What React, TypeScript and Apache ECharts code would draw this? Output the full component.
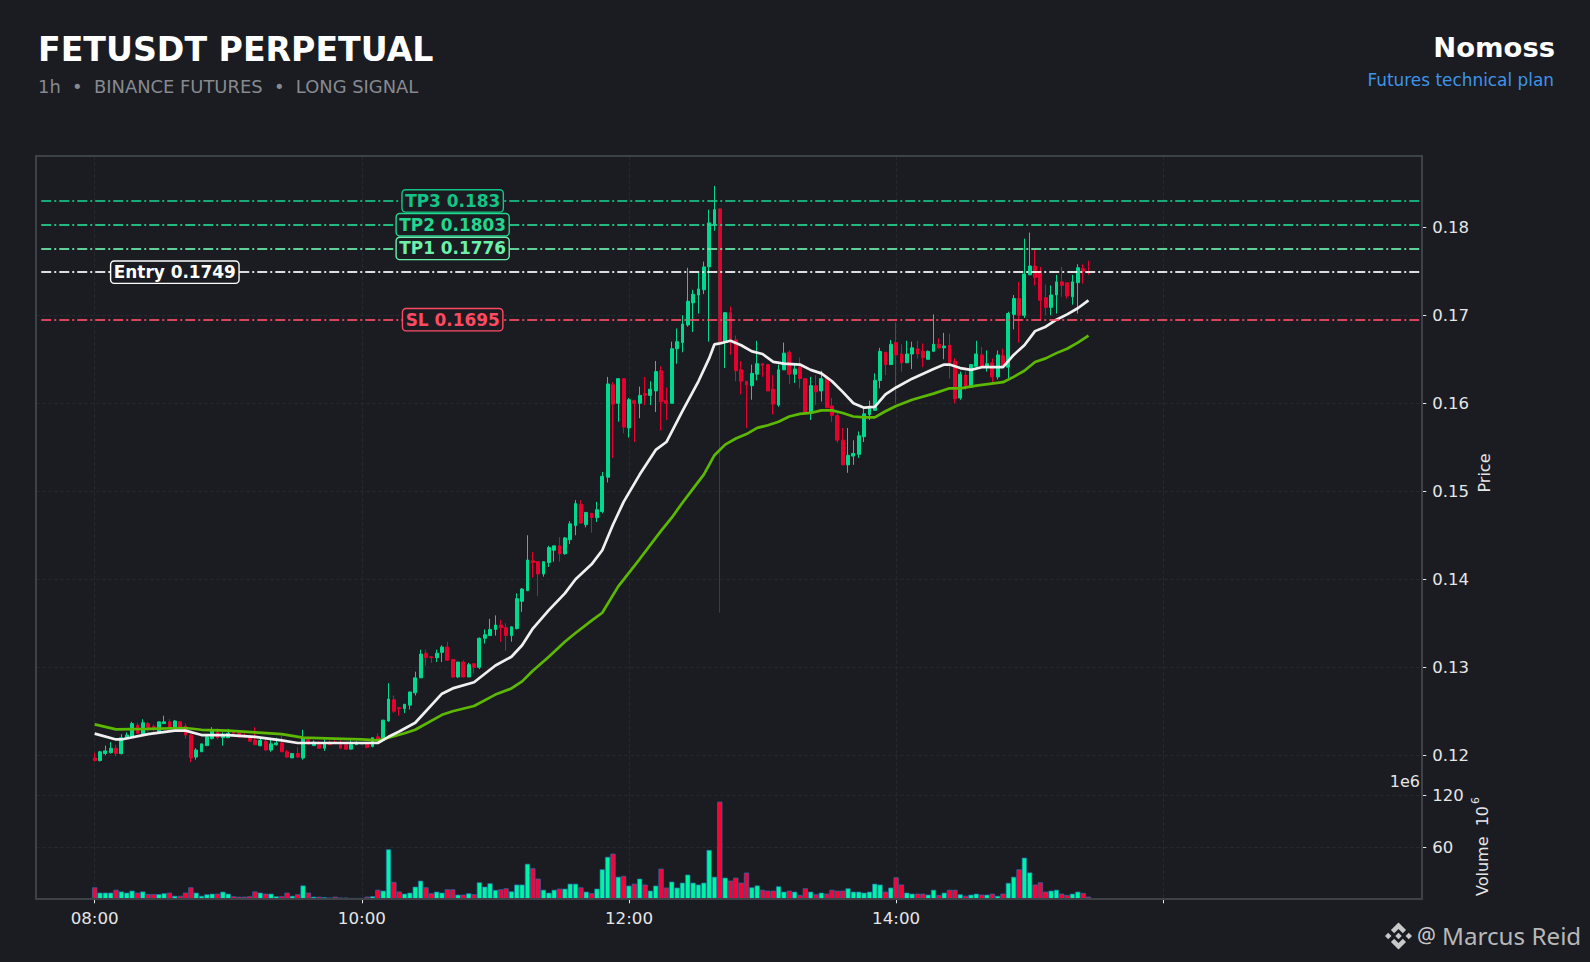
import { useEffect, useRef } from 'react';
import * as echarts from 'echarts';

// x slots of the chart, 2.4 min each; the first candle sits on slot 11
const slotCount = 261;
const firstCandleSlot = 11;
const tickSlots = [11, 61, 111, 161, 211];
const tickLabels = ['08:00', '10:00', '12:00', '14:00', ''];
const priceTicks = [0.12, 0.13, 0.14, 0.15, 0.16, 0.17, 0.18];
const volumeTicks = [60, 120];

const opens = [
  .1197, .1194, .1202, .1203, .1208, .1202, .1219, .1221, .1234, .1224, .1236, .1233, .1227, .1236, .1238, .1231, .1238, .1233, .1223, .1198,
  .1204, .1211, .1219, .1226, .1220, .1220, .1227, .1226, .1223, .1221, .1217, .1211, .1216, .1206, .1212, .1214, .1204, .1197, .1202, .1197,
  .1218, .1211, .1212, .1208, .1215, .1215, .1212, .1212, .1207, .1212, .1213, .1214, .1210, .1221, .1217, .1239, .1263, .1254, .1253, .1257,
  .1271, .1288, .1316, .1312, .1311, .1317, .1323, .1309, .1289, .1306, .1289, .1304, .1300, .1333, .1336, .1343, .1348, .1345, .1336, .1344,
  .1375, .1387, .1421, .1420, .1406, .1419, .1433, .1438, .1429, .1445, .1461, .1485, .1462, .1475, .1470, .1477, .1516, .1621, .1600, .1628,
  .1572, .1603, .1600, .1611, .1609, .1614, .1637, .1603, .1600, .1662, .1669, .1689, .1714, .1723, .1729, .1755, .1803, .1821, .1670, .1703,
  .1672, .1638, .1625, .1620, .1633, .1645, .1644, .1616, .1598, .1638, .1658, .1633, .1641, .1628, .1590, .1620, .1614, .1629, .1597, .1586,
  .1558, .1530, .1540, .1542, .1562, .1587, .1592, .1626, .1658, .1644, .1669, .1656, .1646, .1656, .1662, .1659, .1650, .1659, .1667, .1663,
  .1666, .1648, .1606, .1632, .1618, .1642, .1655, .1642, .1646, .1630, .1654, .1641, .1701, .1719, .1700, .1746, .1756, .1750, .1720, .1709,
  .1723, .1738, .1737, .1721, .1737, .1753, .1749,
];
const closes = [
  .1194, .1204, .1205, .1208, .1202, .1220, .1223, .1236, .1225, .1237, .1231, .1231, .1238, .1238, .1231, .1239, .1232, .1223, .1197, .1206,
  .1213, .1221, .1228, .1220, .1223, .1225, .1225, .1221, .1221, .1216, .1212, .1217, .1206, .1213, .1214, .1204, .1198, .1202, .1198, .1220,
  .1213, .1215, .1208, .1213, .1212, .1214, .1208, .1207, .1212, .1214, .1214, .1209, .1220, .1217, .1240, .1264, .1250, .1253, .1258, .1272,
  .1288, .1315, .1311, .1311, .1316, .1323, .1308, .1289, .1306, .1289, .1303, .1300, .1333, .1337, .1343, .1348, .1345, .1336, .1346, .1378,
  .1389, .1422, .1419, .1406, .1420, .1436, .1438, .1429, .1447, .1463, .1486, .1464, .1476, .1470, .1479, .1517, .1622, .1599, .1628, .1573,
  .1604, .1600, .1609, .1609, .1616, .1636, .1602, .1600, .1662, .1670, .1690, .1716, .1724, .1730, .1755, .1805, .1820, .1670, .1703, .1672,
  .1637, .1625, .1621, .1634, .1645, .1643, .1614, .1599, .1638, .1657, .1633, .1639, .1628, .1590, .1620, .1613, .1628, .1595, .1586, .1558,
  .1530, .1541, .1543, .1563, .1588, .1594, .1626, .1659, .1644, .1667, .1655, .1646, .1656, .1663, .1656, .1652, .1659, .1667, .1663, .1665,
  .1646, .1605, .1633, .1619, .1644, .1656, .1642, .1645, .1630, .1655, .1642, .1702, .1719, .1700, .1747, .1756, .1743, .1717, .1709, .1723,
  .1738, .1734, .1722, .1738, .1754, .1750, .1748,
];
const lows = [
  .1193, .1193, .1200, .1202, .1199, .1201, .1219, .1221, .1224, .1223, .1227, .1227, .1227, .1236, .1229, .1231, .1231, .1219, .1192, .1195,
  .1204, .1211, .1218, .1218, .1211, .1220, .1223, .1220, .1220, .1216, .1212, .1210, .1205, .1204, .1211, .1204, .1197, .1197, .1197, .1195,
  .1212, .1211, .1208, .1205, .1212, .1213, .1208, .1207, .1207, .1212, .1213, .1208, .1209, .1216, .1217, .1238, .1248, .1245, .1248, .1252,
  .1268, .1288, .1302, .1305, .1306, .1306, .1308, .1288, .1288, .1289, .1289, .1293, .1298, .1327, .1336, .1336, .1329, .1319, .1329, .1343,
  .1363, .1387, .1402, .1381, .1403, .1414, .1420, .1420, .1428, .1440, .1450, .1463, .1459, .1453, .1465, .1475, .1510, .1538, .1579, .1566,
  .1561, .1556, .1583, .1598, .1598, .1590, .1569, .1581, .1600, .1645, .1658, .1687, .1681, .1702, .1724, .1670, .1796, .1362, .1640, .1655,
  .1625, .1610, .1572, .1604, .1626, .1630, .1614, .1587, .1596, .1638, .1622, .1623, .1617, .1590, .1581, .1598, .1602, .1595, .1579, .1555,
  .1530, .1521, .1530, .1538, .1556, .1581, .1592, .1617, .1632, .1644, .1600, .1636, .1646, .1639, .1651, .1641, .1650, .1659, .1662, .1650,
  .1628, .1600, .1604, .1615, .1618, .1642, .1640, .1636, .1624, .1627, .1641, .1628, .1684, .1669, .1697, .1746, .1734, .1695, .1700, .1700,
  .1702, .1721, .1719, .1712, .1702, .1736, .1746,
];
const highs = [
  .1203, .1205, .1211, .1215, .1212, .1224, .1226, .1238, .1237, .1241, .1238, .1235, .1238, .1245, .1241, .1240, .1239, .1236, .1224, .1208,
  .1213, .1222, .1232, .1231, .1226, .1230, .1227, .1227, .1225, .1223, .1232, .1220, .1219, .1219, .1220, .1223, .1206, .1202, .1209, .1229,
  .1220, .1217, .1216, .1218, .1217, .1217, .1217, .1213, .1217, .1216, .1215, .1215, .1220, .1225, .1240, .1282, .1268, .1255, .1258, .1272,
  .1295, .1320, .1320, .1312, .1320, .1325, .1329, .1309, .1306, .1308, .1305, .1304, .1334, .1343, .1355, .1359, .1354, .1350, .1346, .1384,
  .1390, .1450, .1431, .1420, .1420, .1438, .1438, .1448, .1448, .1466, .1490, .1490, .1476, .1475, .1488, .1522, .1630, .1624, .1628, .1628,
  .1606, .1603, .1619, .1630, .1625, .1648, .1642, .1618, .1670, .1685, .1700, .1754, .1729, .1749, .1761, .1820, .1847, .1821, .1703, .1710,
  .1677, .1648, .1625, .1644, .1671, .1645, .1644, .1632, .1644, .1669, .1660, .1645, .1652, .1628, .1630, .1632, .1637, .1632, .1606, .1589,
  .1572, .1572, .1558, .1568, .1594, .1603, .1634, .1663, .1658, .1672, .1692, .1667, .1671, .1670, .1671, .1668, .1660, .1701, .1674, .1680,
  .1679, .1651, .1636, .1636, .1644, .1671, .1664, .1660, .1651, .1660, .1662, .1704, .1723, .1738, .1787, .1794, .1775, .1755, .1735, .1734,
  .1746, .1755, .1737, .1746, .1758, .1758, .1762,
];
// volume in millions
const volumes = [
  13.8, 7.7, 7.7, 7.7, 11, 9, 7.7, 10, 7.7, 9, 6, 6, 6, 7, 7.7, 4, 4, 7.7, 13.8, 7.7,
  4, 5.8, 6.5, 6.5, 8.8, 6.5, 3.5, 3, 3, 3.5, 9, 7.7, 6.5, 6.5, 3.5, 3.5, 7.7, 4, 5.8, 16,
  7.7, 3, 3, 2.5, 2, 3, 2, 2, 1.5, 1.5, 1.5, 3, 3.5, 11, 10, 57.7, 20, 9, 6.5, 7.7,
  14.6, 21.5, 13.8, 7, 8.8, 7.7, 11.5, 11.5, 5.4, 5.4, 7, 5.8, 19.6, 14.6, 18.5, 10.8, 11.5, 12.7, 9.2, 17,
  17, 41, 35.8, 23.8, 11, 7.7, 11, 12.3, 12.3, 18, 18, 13.8, 8.8, 7, 12.3, 34.6, 49, 52.7, 26, 27,
  15.8, 18, 23.8, 17, 10, 15.8, 35.4, 13.5, 20.4, 13.5, 19.2, 28.5, 19.2, 17, 19.2, 57, 26, 112.7, 25, 21.5,
  25, 19.2, 30.8, 13.8, 16, 11, 10, 10, 15, 8.8, 10, 8.8, 5, 12.7, 8.8, 5.8, 7.7, 6.5, 11, 10,
  10, 12.7, 8.8, 8.8, 7.7, 8.8, 18, 17, 8.8, 13.5, 25.4, 17, 7.7, 6.5, 6.5, 6.5, 5.4, 11, 5, 7.7,
  11, 11, 5.8, 4, 5.4, 6.5, 5.4, 5.4, 6.5, 4, 6.5, 19, 26, 34.6, 48, 31, 17, 19.6, 8.8, 10,
  11, 6.5, 5, 6.5, 8.8, 7.3, 3,
];

// moving averages, read at the candle numbers listed beside them
const fastMaAt = [0, 4, 5, 10, 15, 17, 20, 25, 30, 35, 38, 40, 45, 50, 53, 55, 57, 60, 65, 67, 71, 75, 78, 80, 82, 85, 88, 90, 93, 95, 97, 99, 102, 105, 107, 110, 113, 115, 116, 117, 119, 121, 123, 125, 127, 129, 132, 134, 136, 138, 140, 142, 144, 146, 148, 150, 153, 157, 159, 160, 162, 164, 166, 170, 172, 174, 176, 178, 180, 182, 184, 186];
const fastMa = [.12246, .1218, .1218, .1224, .1228, .1228, .1223, .1223, .1221, .1217, .1214, .1214, .1214, .1214, .1214, .1221, .1227, .1237, .127, .1276, .1283, .1302, .1312, .1325, .1344, .1365, .1384, .14, .1417, .1433, .1462, .1488, .1519, .1547, .1556, .1591, .1625, .1651, .1667, .1668, .1671, .1666, .1659, .1656, .1647, .1645, .1644, .1638, .1634, .1625, .1613, .16, .1595, .1596, .161, .1618, .1628, .1639, .1644, .1644, .164, .1638, .1641, .1641, .1655, .1666, .1682, .1687, .1695, .1701, .1708, .1717];
const slowMaAt = [0, 4, 10, 17, 20, 25, 30, 35, 39, 45, 50, 53, 55, 58, 60, 65, 67, 71, 75, 78, 80, 82, 85, 88, 90, 93, 95, 98, 102, 106, 108, 110, 112, 114, 115, 116, 118, 120, 122, 124, 126, 128, 130, 132, 134, 136, 138, 140, 142, 144, 146, 148, 150, 153, 157, 160, 162, 165, 170, 172, 174, 176, 178, 180, 182, 184, 186];
const slowMa = [.12352, .12295, .123, .1231, .1229, .1228, .1226, .1224, .122, .1219, .1218, .1217, .122, .1225, .1229, .1246, .125, .1256, .1269, .1276, .1284, .1296, .1312, .1329, .1339, .1353, .1362, .1392, .1423, .1455, .147, .1487, .1503, .1519, .153, .1541, .1553, .156, .1565, .1572, .1575, .1579, .1585, .1588, .1589, .1592, .1592, .1589, .1585, .1584, .1584, .1591, .1597, .1604, .1611, .1617, .1617, .162, .1624, .163, .1637, .1647, .1651, .1657, .1662, .1669, .1677];

const levelNames = ['TP3', 'TP2', 'TP1', 'Entry', 'SL'];
const levelPrices = [0.183, 0.1803, 0.1776, 0.1749, 0.1695];

const levelColors = ['#14c487', '#24d690', '#6cf0ac', '#ffffff', '#ff4a64'];
const levelTagSlots = [78, 78, 78, 26, 78];

const BG = '#1a1c22';
const UP = '#00d98e';
const DOWN = '#e6002e';
const VOL_UP = '#00f5a0';
const VOL_DOWN = '#ff0033';
const TEXT = '#e6e6e6';
const GRID = '#24272c';
const FONT = '"DejaVu Sans"';
const SPIKE_CANDLE = 117;

const slots = Array.from({ length: slotCount }, (_, i) => String(i));
const isTickSlot = (i: number) => tickSlots.includes(i);
const candleData = opens.map((o, i) => {
  const value = [i + firstCandleSlot, o, closes[i], lows[i], highs[i]];
  // the long wick of the spike is only a hairline in the picture
  return i === SPIKE_CANDLE ? { value, itemStyle: { borderWidth: 0.5, borderColor0: '#a83a50' } } : { value };
});
const volumeData = volumes.map((v, i) => ({
  value: [i + firstCandleSlot, v],
  itemStyle: { color: closes[i] >= opens[i] ? VOL_UP : VOL_DOWN },
}));
const maLine = (at: number[], values: number[]) => values.map((v, i) => [at[i] + firstCandleSlot, v]);

echarts.graphic.registerShape(
  'logo',
  echarts.graphic.extendPath(
    'M50 0L78 28L66 40L50 24L34 40L22 28ZM50 100L78 72L66 60L50 76L34 60L22 72ZM0 50L12 38L24 50L12 62ZM100 50L88 38L76 50L88 62ZM50 38L62 50L50 62L38 50Z',
    {}
  )
);

function label(text: string, x: number, y: number, style: any, rotation = 0) {
  return {
    type: 'text',
    x,
    y,
    rotation,
    silent: true,
    style: { text, fontFamily: FONT, fill: TEXT, fontSize: 16, textVerticalAlign: 'middle', ...style },
  };
}

export default function App() {
  const ref = useRef<HTMLDivElement>(null);

  useEffect(() => {
    document.body.style.margin = '0';
    document.body.style.background = BG;
    if (ref.current) {
      const chart = echarts.init(ref.current, null, { renderer: 'svg' });
      const gridX = { left: 35.9, width: 1389.2 };
      chart.setOption({
        animation: false,
        backgroundColor: BG,
        grid: [
          { ...gridX, top: 156, height: 599.3 },
          { ...gridX, top: 795.3, height: 104 },
          { ...gridX, top: 156, height: 743.3 },
        ],
        xAxis: [
          { type: 'category', gridIndex: 0, data: slots, boundaryGap: false, show: false },
          { type: 'category', gridIndex: 1, data: slots, boundaryGap: false, show: false },
          {
            type: 'category',
            gridIndex: 2,
            data: slots,
            boundaryGap: false,
            axisLine: { show: false },
            axisTick: { show: true, length: 4, interval: (i: number) => isTickSlot(i), lineStyle: { color: TEXT } },
            axisLabel: {
              interval: (i: number) => isTickSlot(i),
              formatter: (_: string, i: number) => tickLabels[tickSlots.indexOf(i)] ?? '',
              color: TEXT,
              fontFamily: FONT,
              fontSize: 16.7,
              margin: 10,
            },
            splitLine: { show: true, interval: (i: number) => isTickSlot(i), lineStyle: { color: GRID, type: 'dashed' } },
          },
        ],
        yAxis: [
          {
            type: 'value',
            gridIndex: 0,
            position: 'right',
            offset: -2.8,
            min: 0.12,
            max: 0.1881,
            interval: 0.01,
            axisLine: { show: false },
            axisTick: { show: true, length: 4, customValues: priceTicks, lineStyle: { color: TEXT } },
            axisLabel: {
              customValues: priceTicks,
              formatter: (v: number) => v.toFixed(2),
              color: TEXT,
              fontFamily: FONT,
              fontSize: 16.5,
              margin: 10,
              padding: [2, 0, 0, 0],
            },
            splitLine: { show: true, showMaxLine: false, lineStyle: { color: GRID, type: 'dashed' } },
          },
          {
            type: 'value',
            gridIndex: 1,
            position: 'right',
            offset: -2.8,
            min: 0,
            max: 120,
            interval: 60,
            axisLine: { show: false },
            axisTick: { show: true, length: 4, customValues: volumeTicks, lineStyle: { color: TEXT } },
            axisLabel: {
              customValues: volumeTicks,
              color: TEXT,
              fontFamily: FONT,
              fontSize: 16.5,
              margin: 10,
              padding: [2, 0, 0, 0],
            },
            splitLine: { show: true, lineStyle: { color: GRID, type: 'dashed' } },
          },
          { type: 'value', gridIndex: 2, show: false },
        ],
        series: [
          {
            type: 'candlestick',
            xAxisIndex: 0,
            yAxisIndex: 0,
            data: candleData,
            encode: { x: 0, y: [1, 2, 3, 4] },
            clip: false,
            barWidth: 3.3,
            itemStyle: { color: UP, color0: DOWN, borderColor: UP, borderColor0: DOWN, borderWidth: 1 },
            z: 3,
          },
          {
            type: 'bar',
            xAxisIndex: 1,
            yAxisIndex: 1,
            data: volumeData,
            barWidth: 5.2,
            itemStyle: { borderColor: '#1f6fb2', borderWidth: 0.7 },
            z: 3,
          },
          {
            type: 'line',
            xAxisIndex: 0,
            yAxisIndex: 0,
            data: maLine(slowMaAt, slowMa),
            showSymbol: false,
            clip: false,
            lineStyle: { color: '#5cb800', width: 2.7 },
            z: 4,
          },
          {
            type: 'line',
            xAxisIndex: 0,
            yAxisIndex: 0,
            data: maLine(fastMaAt, fastMa),
            showSymbol: false,
            clip: false,
            lineStyle: { color: '#f0f0f0', width: 2.7 },
            z: 4,
          },
          {
            type: 'scatter',
            xAxisIndex: 0,
            yAxisIndex: 0,
            symbolSize: 1,
            itemStyle: { color: 'transparent', opacity: 1 },
            z: 6,
            data: levelPrices.map((p, i) => ({
              value: [levelTagSlots[i], p],
              label: {
                show: true,
                position: 'inside',
                formatter: `${levelNames[i]} ${p}`,
                color: levelColors[i],
                fontFamily: FONT,
                fontWeight: 'bold',
                fontSize: 16.9,
                backgroundColor: BG,
                borderColor: levelColors[i],
                borderWidth: 1.4,
                borderRadius: 3,
                padding: [2, 2.5, 2, 2.5],
              },
            })),
            markLine: {
              silent: true,
              symbol: 'none',
              animation: false,
              label: { show: false },
              z: 5,
              data: levelPrices.map((p, i) => [
                { coord: [1, p], lineStyle: { color: levelColors[i], width: 1.9, type: [10, 3, 2, 3], opacity: 0.85 } },
                { coord: [259, p] },
              ]),
            },
          },
        ],
        graphic: [
          {
            type: 'rect',
            silent: true,
            z: 10,
            shape: { x: 36, y: 156, width: 1386, height: 743 },
            style: { fill: 'none', stroke: '#3d4249', lineWidth: 2 },
          },
          label('FETUSDT PERPETUAL', 38, 49, { fontSize: 33.2, fontWeight: 'bold', fill: '#ffffff' }),
          label('1h  \u2022  BINANCE FUTURES  \u2022  LONG SIGNAL', 38, 86, { fontSize: 17.9, fill: '#878a90' }),
          label('Nomoss', 1555, 47, { fontSize: 27.4, fontWeight: 'bold', fill: '#ffffff', textAlign: 'right' }),
          label('Futures technical plan', 1554, 80, { fontSize: 16.9, fill: '#3f94e6', textAlign: 'right' }),
          label('Price', 1484.5, 473, { textAlign: 'center' }, Math.PI / 2),
          label('Volume  10', 1482, 896, { textAlign: 'left' }, Math.PI / 2),
          label('6', 1475, 804, { fontSize: 11, textAlign: 'left' }, Math.PI / 2),
          label('1e6', 1420, 781, { textAlign: 'right' }),
          {
            type: 'logo',
            x: 1385,
            y: 922.5,
            scaleX: 0.27,
            scaleY: 0.27,
            silent: true,
            style: { fill: '#c8c8c8' },
          },
          label('@', 1417, 935, { fontSize: 21, fontFamily: '"Noto Sans"', fill: '#c8c8c8' }),
          label('Marcus Reid', 1442, 935, { fontSize: 24.2, fontFamily: '"Noto Sans"', fill: '#b8b8b8' }),
        ],
      });
      return () => {
        chart.dispose();
      };
    }
  }, []);

  return <div ref={ref} style={{ width: 1590, height: 962 }} />;
}
